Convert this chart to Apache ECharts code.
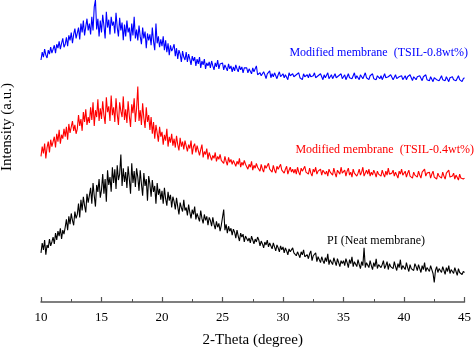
<!DOCTYPE html>
<html>
<head>
<meta charset="utf-8">
<script src="https://cdn.jsdelivr.net/npm/echarts@6/dist/echarts.min.js"></script>
<style>
  html, body { margin: 0; padding: 0; background: #fff; }
  #chart { width: 474px; height: 353px; }
</style>
</head>
<body>
<div id="chart"></div>
<script>
// 2-Theta grid: 10 .. 45 deg, step 0.1
var thetaStart = 10
var thetaStep = 0.1

// intensity (a.u.), curves already offset as in the figure, one row per degree
var tsil08 = [
  246, 254, 249, 257, 251, 248, 256, 252, 259, 253,
  255, 261, 253, 262, 258, 265, 257, 263, 268, 259,
  262, 269, 260, 271, 266, 274, 263, 272, 278, 268,
  270, 279, 267, 283, 274, 286, 271, 280, 288, 276,
  283, 272, 290, 276, 300, 307, 277, 288, 270, 286,
  274, 292, 281, 268, 295, 279, 287, 272, 290, 281,
  285, 273, 294, 279, 270, 289, 276, 284, 266, 282,
  270, 286, 274, 279, 265, 283, 271, 290, 268, 277,
  266, 281, 270, 262, 279, 268, 275, 258, 273, 266,
  272, 261, 279, 265, 256, 283, 263, 270, 259, 267,
  260, 270, 256, 266, 254, 263, 251, 261, 255, 258,
  262, 250, 258, 247, 256, 252, 244, 255, 249, 246,
  254, 244, 252, 247, 241, 250, 245, 249, 240, 247,
  242, 249, 238, 245, 241, 247, 237, 243, 240, 244,
  238, 245, 240, 236, 243, 239, 246, 237, 242, 240,
  243, 236, 241, 238, 235, 242, 237, 240, 234, 239,
  235, 241, 237, 234, 240, 236, 239, 233, 238, 236,
  238, 233, 237, 235, 232, 238, 234, 236, 240, 231,
  229, 233, 230, 228, 234, 231, 227, 232, 230, 235,
  228, 232, 229, 233, 230, 227, 231, 234, 229, 231,
  232, 228, 231, 229, 226, 233, 230, 228, 232, 229,
  227, 231, 229, 233, 228, 230, 226, 232, 229, 231,
  231, 228, 232, 229, 227, 230, 233, 228, 226, 230,
  228, 232, 229, 226, 231, 228, 230, 233, 227, 229,
  231, 227, 229, 232, 228, 226, 230, 229, 232, 227,
  228, 231, 226, 229, 232, 228, 230, 227, 229, 233,
  227, 230, 228, 226, 231, 229, 227, 230, 233, 228,
  229, 226, 230, 228, 232, 227, 229, 226, 230, 228,
  227, 230, 226, 229, 232, 228, 226, 229, 227, 231,
  229, 226, 228, 231, 227, 225, 229, 228, 230, 226,
  228, 230, 226, 229, 227, 231, 228, 225, 229, 227,
  226, 229, 227, 230, 228, 225, 229, 227, 231, 226,
  228, 225, 229, 227, 224, 228, 230, 226, 228, 225,
  227, 230, 226, 228, 225, 229, 227, 224, 228, 226,
  229, 226, 228, 225, 227, 230, 226, 228, 224, 227,
  228
]
var tsil04 = [
  148, 158, 151, 161, 146, 157, 163, 152, 165, 158,
  160, 168, 157, 171, 163, 175, 161, 170, 166, 176,
  168, 178, 165, 181, 172, 170, 184, 174, 180, 171,
  176, 190, 179, 186, 174, 193, 183, 196, 180, 188,
  182, 198, 185, 203, 179, 195, 188, 206, 184, 197,
  186, 204, 190, 181, 208, 193, 199, 184, 210, 190,
  198, 183, 207, 191, 180, 203, 194, 188, 209, 185,
  196, 182, 204, 189, 178, 201, 192, 207, 183, 197,
  219, 184, 195, 180, 202, 187, 177, 198, 183, 190,
  175, 188, 171, 183, 166, 180, 172, 163, 178, 168,
  173, 160, 170, 164, 176, 158, 168, 162, 171, 159,
  166, 157, 169, 160, 154, 167, 158, 163, 155, 164,
  162, 153, 160, 156, 164, 150, 158, 161, 152, 159,
  157, 149, 155, 160, 147, 153, 150, 156, 145, 152,
  151, 144, 149, 146, 152, 143, 148, 145, 150, 144,
  146, 141, 148, 143, 139, 147, 142, 145, 140, 144,
  144, 138, 143, 140, 146, 137, 142, 139, 144, 140,
  141, 135, 140, 137, 143, 134, 139, 136, 141, 137,
  138, 133, 140, 135, 132, 139, 136, 134, 141, 135,
  137, 132, 139, 134, 131, 138, 135, 133, 140, 134,
  136, 131, 135, 138, 130, 134, 137, 132, 135, 131,
  135, 130, 137, 132, 129, 136, 133, 131, 138, 132,
  134, 130, 136, 131, 128, 135, 132, 137, 130, 133,
  131, 135, 129, 134, 136, 130, 133, 128, 135, 132,
  133, 129, 136, 131, 127, 134, 132, 130, 137, 131,
  130, 134, 128, 133, 136, 129, 132, 127, 135, 131,
  133, 128, 131, 135, 129, 132, 137, 128, 131, 134,
  130, 135, 128, 132, 129, 134, 131, 127, 133, 130,
  132, 128, 134, 130, 127, 133, 129, 136, 130, 128,
  131, 134, 128, 132, 129, 126, 133, 130, 135, 129,
  130, 133, 127, 131, 134, 128, 130, 126, 132, 129,
  131, 127, 133, 129, 126, 132, 130, 135, 128, 131,
  129, 132, 126, 130, 133, 127, 129, 125, 131, 128,
  130, 126, 132, 128, 125, 131, 129, 134, 127, 129,
  128, 131, 125, 129, 127, 124, 130, 126, 128, 125,
  126
]
var neatPI = [
  50, 60, 53, 63, 48, 58, 55, 64, 57, 61,
  66, 59, 70, 63, 72, 67, 75, 64, 73, 69,
  76, 84, 73, 87, 79, 90, 83, 78, 92, 85,
  89, 100, 86, 104, 93, 107, 98, 91, 110, 101,
  103, 116, 100, 121, 108, 97, 119, 112, 125, 106,
  114, 130, 110, 125, 102, 134, 119, 127, 112, 137,
  121, 135, 115, 139, 124, 130, 150, 118, 136, 122,
  132, 116, 138, 125, 110, 141, 121, 133, 117, 136,
  127, 113, 134, 120, 108, 131, 118, 125, 103, 128,
  120, 107, 124, 112, 118, 100, 121, 109, 115, 104,
  113, 100, 116, 105, 98, 112, 103, 109, 96, 107,
  102, 94, 106, 97, 89, 101, 96, 92, 104, 93,
  96, 88, 99, 91, 85, 94, 89, 97, 84, 90,
  90, 82, 93, 85, 80, 89, 83, 87, 78, 86,
  83, 77, 86, 79, 74, 82, 76, 80, 72, 78,
  76, 94, 73, 79, 70, 77, 72, 75, 68, 74,
  71, 65, 73, 67, 62, 70, 66, 69, 61, 67,
  68, 62, 65, 60, 67, 63, 59, 64, 61, 66,
  63, 57, 62, 59, 55, 61, 58, 63, 56, 60,
  59, 54, 60, 56, 52, 58, 55, 51, 57, 53,
  56, 50, 55, 52, 48, 54, 51, 49, 55, 50,
  52, 47, 51, 49, 45, 51, 48, 53, 46, 48,
  48, 44, 49, 52, 42, 47, 45, 50, 41, 46,
  44, 40, 46, 42, 39, 45, 41, 49, 38, 43,
  43, 38, 45, 41, 37, 44, 40, 36, 42, 39,
  42, 37, 44, 40, 35, 43, 39, 46, 36, 41,
  40, 36, 43, 38, 34, 41, 37, 55, 35, 40,
  39, 35, 42, 37, 33, 40, 36, 44, 34, 38,
  40, 35, 38, 42, 34, 37, 41, 33, 39, 36,
  38, 34, 41, 36, 32, 39, 35, 43, 33, 37,
  37, 33, 40, 35, 31, 38, 34, 36, 32, 39,
  36, 32, 38, 34, 30, 37, 33, 40, 31, 35,
  35, 31, 37, 33, 29, 20, 32, 36, 30, 34,
  34, 30, 36, 32, 28, 35, 31, 37, 29, 33,
  33, 29, 35, 31, 27, 34, 30, 32, 28, 31,
  30
]

var xTicks = [10, 15, 20, 25, 30, 35, 40, 45]

function pairs(vals) {
  return vals.map(function (v, i) {
    return [+(thetaStart + i * thetaStep).toFixed(1), v]
  })
}

var serif = '"Liberation Serif", "Times New Roman", serif'
var chart = echarts.init(document.getElementById('chart'))

function line(name, color, vals) {
  return {
    name: name,
    type: 'line',
    data: pairs(vals),
    showSymbol: false,
    symbol: 'none',
    sampling: null,
    lineStyle: { color: color, width: 1.1 },
    z: 2
  }
}

chart.setOption({
  animation: false,
  backgroundColor: '#fff',
  grid: { left: 41, right: 6, top: 0, bottom: 46 },
  xAxis: {
    type: 'value',
    min: xTicks[0],
    max: xTicks[xTicks.length - 1],
    interval: 5,
    name: '2-Theta (degree)',
    nameLocation: 'middle',
    nameGap: 31,
    nameTextStyle: { fontFamily: serif, fontSize: 15, color: '#000' },
    axisLine: { lineStyle: { color: '#555', width: 1.5 } },
    axisTick: { inside: true, length: 5, lineStyle: { color: '#555', width: 1.2 } },
    minorTick: { show: true, splitNumber: 2, length: 3, lineStyle: { color: '#555', width: 1 } },
    axisLabel: { fontFamily: serif, fontSize: 13, color: '#000', margin: 9 },
    splitLine: { show: false }
  },
  yAxis: {
    type: 'value',
    min: 0,
    max: 307,
    axisLine: { show: false },
    axisTick: { show: false },
    axisLabel: { show: false },
    splitLine: { show: false }
  },
  graphic: [
    {
      type: 'text', x: 7, y: 127, rotation: Math.PI / 2,
      style: {
        text: 'Intensity (a.u.)', fontFamily: serif, fontSize: 15, fill: '#000',
        align: 'center', verticalAlign: 'middle'
      }
    },
    {
      type: 'text', x: 468, y: 53,
      style: {
        text: 'Modified membrane  (TSIL-0.8wt%)', fontFamily: serif, fontSize: 12,
        fill: '#0000ff', align: 'right', verticalAlign: 'middle'
      }
    },
    {
      type: 'text', x: 474, y: 150,
      style: {
        text: 'Modified membrane  (TSIL-0.4wt%)', fontFamily: serif, fontSize: 12,
        fill: '#ff0000', align: 'right', verticalAlign: 'middle'
      }
    },
    {
      type: 'text', x: 327, y: 241,
      style: {
        text: 'PI (Neat membrane)', fontFamily: serif, fontSize: 12,
        fill: '#000', align: 'left', verticalAlign: 'middle'
      }
    }
  ],
  series: [
    line('TSIL-0.8wt%', '#0000ff', tsil08),
    line('TSIL-0.4wt%', '#ff0000', tsil04),
    line('PI', '#000000', neatPI)
  ]
})
</script>
</body>
</html>
